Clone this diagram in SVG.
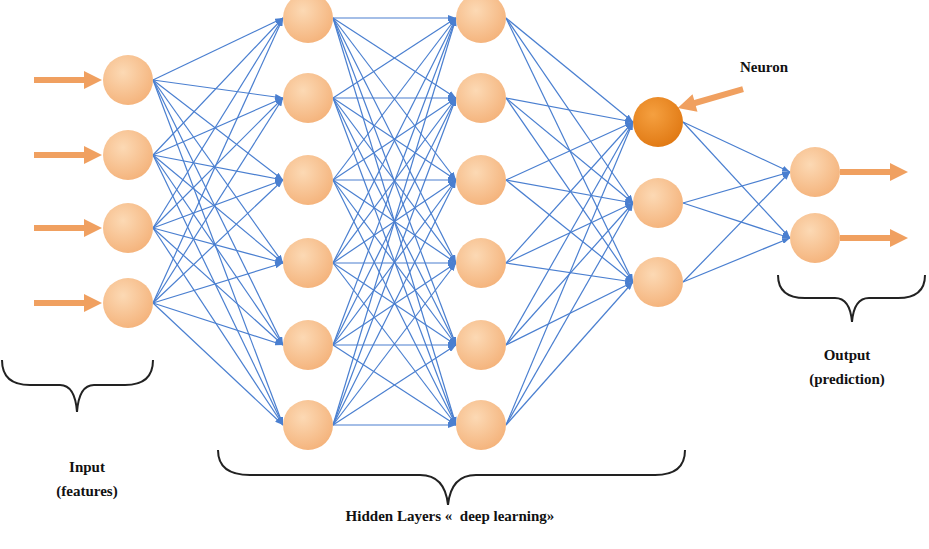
<svg xmlns="http://www.w3.org/2000/svg" width="929" height="549" viewBox="0 0 929 549">
<defs>
<radialGradient id="g" cx="0.4" cy="0.35" r="0.7"><stop offset="0" stop-color="#fcd9b4"/><stop offset="1" stop-color="#f4b27a"/></radialGradient>
<radialGradient id="gd" cx="0.4" cy="0.35" r="0.7"><stop offset="0" stop-color="#f5a040"/><stop offset="1" stop-color="#e07812"/></radialGradient>
<marker id="a" markerWidth="8" markerHeight="6" refX="8" refY="3" orient="auto" markerUnits="userSpaceOnUse"><path d="M0,0L8,3L0,6z" fill="#4a7fd0"/></marker>
<path id="ah" d="M0,-3L-50,-3L-50,3L0,3L0,9L18,0L0,-9z"/>
</defs>
<style>
.c{stroke:#4a7fd0;stroke-width:1.2;marker-end:url(#a)}
.n{fill:url(#g)}
.oa{fill:#f0a060}
.b{fill:none;stroke:#222;stroke-width:2}
text{font-family:"Liberation Serif",serif;font-weight:bold;font-size:15px;fill:#111;text-anchor:middle}
</style>
<rect width="929" height="549" fill="#fff"/>
<g id="connectors">
<line class="c" x1="153" y1="80" x2="283" y2="18"/><line class="c" x1="153" y1="80" x2="283" y2="98"/><line class="c" x1="153" y1="80" x2="283" y2="180"/><line class="c" x1="153" y1="80" x2="283" y2="263"/><line class="c" x1="153" y1="80" x2="283" y2="345"/><line class="c" x1="153" y1="80" x2="283" y2="425"/>
<line class="c" x1="153" y1="155" x2="283" y2="18"/><line class="c" x1="153" y1="155" x2="283" y2="98"/><line class="c" x1="153" y1="155" x2="283" y2="180"/><line class="c" x1="153" y1="155" x2="283" y2="263"/><line class="c" x1="153" y1="155" x2="283" y2="345"/><line class="c" x1="153" y1="155" x2="283" y2="425"/>
<line class="c" x1="153" y1="228" x2="283" y2="18"/><line class="c" x1="153" y1="228" x2="283" y2="98"/><line class="c" x1="153" y1="228" x2="283" y2="180"/><line class="c" x1="153" y1="228" x2="283" y2="263"/><line class="c" x1="153" y1="228" x2="283" y2="345"/><line class="c" x1="153" y1="228" x2="283" y2="425"/>
<line class="c" x1="153" y1="303" x2="283" y2="18"/><line class="c" x1="153" y1="303" x2="283" y2="98"/><line class="c" x1="153" y1="303" x2="283" y2="180"/><line class="c" x1="153" y1="303" x2="283" y2="263"/><line class="c" x1="153" y1="303" x2="283" y2="345"/><line class="c" x1="153" y1="303" x2="283" y2="425"/>
<line class="c" x1="333" y1="18" x2="456" y2="18"/><line class="c" x1="333" y1="18" x2="456" y2="98"/><line class="c" x1="333" y1="18" x2="456" y2="180"/><line class="c" x1="333" y1="18" x2="456" y2="263"/><line class="c" x1="333" y1="18" x2="456" y2="345"/><line class="c" x1="333" y1="18" x2="456" y2="425"/>
<line class="c" x1="333" y1="98" x2="456" y2="18"/><line class="c" x1="333" y1="98" x2="456" y2="98"/><line class="c" x1="333" y1="98" x2="456" y2="180"/><line class="c" x1="333" y1="98" x2="456" y2="263"/><line class="c" x1="333" y1="98" x2="456" y2="345"/><line class="c" x1="333" y1="98" x2="456" y2="425"/>
<line class="c" x1="333" y1="180" x2="456" y2="18"/><line class="c" x1="333" y1="180" x2="456" y2="98"/><line class="c" x1="333" y1="180" x2="456" y2="180"/><line class="c" x1="333" y1="180" x2="456" y2="263"/><line class="c" x1="333" y1="180" x2="456" y2="345"/><line class="c" x1="333" y1="180" x2="456" y2="425"/>
<line class="c" x1="333" y1="263" x2="456" y2="18"/><line class="c" x1="333" y1="263" x2="456" y2="98"/><line class="c" x1="333" y1="263" x2="456" y2="180"/><line class="c" x1="333" y1="263" x2="456" y2="263"/><line class="c" x1="333" y1="263" x2="456" y2="345"/><line class="c" x1="333" y1="263" x2="456" y2="425"/>
<line class="c" x1="333" y1="345" x2="456" y2="18"/><line class="c" x1="333" y1="345" x2="456" y2="98"/><line class="c" x1="333" y1="345" x2="456" y2="180"/><line class="c" x1="333" y1="345" x2="456" y2="263"/><line class="c" x1="333" y1="345" x2="456" y2="345"/><line class="c" x1="333" y1="345" x2="456" y2="425"/>
<line class="c" x1="333" y1="425" x2="456" y2="18"/><line class="c" x1="333" y1="425" x2="456" y2="98"/><line class="c" x1="333" y1="425" x2="456" y2="180"/><line class="c" x1="333" y1="425" x2="456" y2="263"/><line class="c" x1="333" y1="425" x2="456" y2="345"/><line class="c" x1="333" y1="425" x2="456" y2="425"/>
<line class="c" x1="506" y1="18" x2="633" y2="122"/><line class="c" x1="506" y1="18" x2="633" y2="203"/><line class="c" x1="506" y1="18" x2="633" y2="282"/>
<line class="c" x1="506" y1="98" x2="633" y2="122"/><line class="c" x1="506" y1="98" x2="633" y2="203"/><line class="c" x1="506" y1="98" x2="633" y2="282"/>
<line class="c" x1="506" y1="180" x2="633" y2="122"/><line class="c" x1="506" y1="180" x2="633" y2="203"/><line class="c" x1="506" y1="180" x2="633" y2="282"/>
<line class="c" x1="506" y1="263" x2="633" y2="122"/><line class="c" x1="506" y1="263" x2="633" y2="203"/><line class="c" x1="506" y1="263" x2="633" y2="282"/>
<line class="c" x1="506" y1="345" x2="633" y2="122"/><line class="c" x1="506" y1="345" x2="633" y2="203"/><line class="c" x1="506" y1="345" x2="633" y2="282"/>
<line class="c" x1="506" y1="425" x2="633" y2="122"/><line class="c" x1="506" y1="425" x2="633" y2="203"/><line class="c" x1="506" y1="425" x2="633" y2="282"/>
<line class="c" x1="683" y1="122" x2="790" y2="172"/><line class="c" x1="683" y1="122" x2="790" y2="238"/>
<line class="c" x1="683" y1="203" x2="790" y2="172"/><line class="c" x1="683" y1="203" x2="790" y2="238"/>
<line class="c" x1="683" y1="282" x2="790" y2="172"/><line class="c" x1="683" y1="282" x2="790" y2="238"/>
<use href="#ah" class="oa" transform="translate(84,80)"/>
<use href="#ah" class="oa" transform="translate(84,155)"/>
<use href="#ah" class="oa" transform="translate(84,228)"/>
<use href="#ah" class="oa" transform="translate(84,303)"/>
<use href="#ah" class="oa" transform="translate(890,172)"/>
<use href="#ah" class="oa" transform="translate(890,238)"/>
<use href="#ah" class="oa" transform="translate(695,103) rotate(164) scale(1,1)"/>
</g>
<g id="input"><circle class="n" cx="128" cy="80" r="25"/><circle class="n" cx="128" cy="155" r="25"/><circle class="n" cx="128" cy="228" r="25"/><circle class="n" cx="128" cy="303" r="25"/></g>
<g id="hidden1"><circle class="n" cx="308" cy="18" r="25"/><circle class="n" cx="308" cy="98" r="25"/><circle class="n" cx="308" cy="180" r="25"/><circle class="n" cx="308" cy="263" r="25"/><circle class="n" cx="308" cy="345" r="25"/><circle class="n" cx="308" cy="425" r="25"/></g>
<g id="hidden2"><circle class="n" cx="481" cy="18" r="25"/><circle class="n" cx="481" cy="98" r="25"/><circle class="n" cx="481" cy="180" r="25"/><circle class="n" cx="481" cy="263" r="25"/><circle class="n" cx="481" cy="345" r="25"/><circle class="n" cx="481" cy="425" r="25"/></g>
<g id="hidden3"><circle cx="658" cy="122" r="25" fill="url(#gd)"/><circle class="n" cx="658" cy="203" r="25"/><circle class="n" cx="658" cy="282" r="25"/></g>
<g id="output"><circle class="n" cx="815" cy="172" r="25"/><circle class="n" cx="815" cy="238" r="25"/></g>
<g id="braces">
<path class="b" d="M2,360 Q2,385 30,385 L60,385 Q75,385 77,412 Q79,385 94,385 L125,385 Q153,385 153,360"/>
<path class="b" d="M218,450 Q218,475 250,475 L420,475 Q445,475 448,505 Q451,475 476,475 L655,475 Q685,475 685,450"/>
<path class="b" d="M778,275 Q778,298 805,298 L835,298 Q850,298 852,322 Q854,298 869,298 L898,298 Q925,298 925,275"/>
</g>
<g id="labels">
<text x="764" y="72">Neuron</text>
<text x="87" y="472">Input</text>
<text x="87" y="496">(features)</text>
<text x="847" y="360">Output</text>
<text x="847" y="384">(prediction)</text>
<text x="450" y="521" xml:space="preserve">Hidden Layers «  deep learning»</text>
</g>
</svg>
